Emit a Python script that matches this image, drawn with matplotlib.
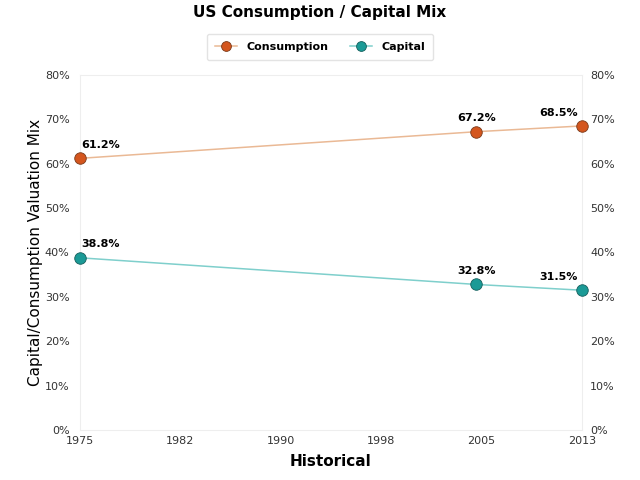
"""US Consumption / Capital mix, line chart with data labels."""

import matplotlib

matplotlib.use("Agg")
import matplotlib.pyplot as plt
import numpy as np
from matplotlib.ticker import FuncFormatter

years = [1975, 2005, 2013]
consumption = [61.2, 67.2, 68.5]
capital = [38.8, 32.8, 31.5]
x_tick_labels = ["1975", "1982", "1990", "1998", "2005", "2013"]
y_ticks = [0, 10, 20, 30, 40, 50, 60, 70, 80]

cons_marker = "#d4561e"
cons_line = "#eab995"
cap_marker = "#1b9a96"
cap_line = "#7fcfcc"

plt.rcParams["font.family"] = ["DejaVu Sans"]

fig = plt.figure(figsize=(6.4, 4.8), dpi=100)
ax = fig.add_axes([0.125, 0.104, 0.784, 0.740])

ax.plot(years, consumption, color=cons_line, lw=1.1, marker="o", ms=8.3,
        mfc=cons_marker, mec="#7a3a1a", mew=0.6, label="Consumption", zorder=3, clip_on=False)
ax.plot(years, capital, color=cap_line, lw=1.1, marker="o", ms=8.3,
        mfc=cap_marker, mec="#145e5c", mew=0.6, label="Capital", zorder=3, clip_on=False)

# data labels
for series in (consumption, capital):
    for i, (x, y) in enumerate(zip(years, series)):
        if i == 0:
            ha, dx = "left", 1
        elif i == len(years) - 1:
            ha, dx = "right", -3
        else:
            ha, dx = "center", 0
        ax.annotate(f"{y:.1f}%", (x, y), xytext=(dx, 6), textcoords="offset points",
                    ha=ha, va="bottom", fontsize=8, fontweight="bold", color="black")

ax.set_xlim(years[0], years[-1])
ax.set_ylim(0, 80)
# evenly spaced ticks across the year range
ax.set_xticks(np.linspace(years[0], years[-1], len(x_tick_labels)), x_tick_labels)
ax.set_yticks(y_ticks)
pct = FuncFormatter(lambda v, p: f"{int(v)}%")
ax.yaxis.set_major_formatter(pct)
ax.tick_params(axis="both", length=0, labelsize=8, colors="#333333")
ax.tick_params(axis="y", pad=7.5)
ax.tick_params(axis="x", pad=4)
for s in ax.spines.values():
    s.set_color("#eeeeee")
    s.set_linewidth(0.8)

# right-hand copy of the percentage scale
ax2 = ax.twinx()
ax2.set_ylim(0, 80)
ax2.set_yticks(y_ticks)
ax2.yaxis.set_major_formatter(pct)
ax2.tick_params(axis="y", length=0, labelsize=8, colors="#333333", pad=6)
for s in ax2.spines.values():
    s.set_visible(False)

ax.set_ylabel("Capital/Consumption Valuation Mix", fontsize=11, labelpad=1)
ax.set_xlabel("Historical", fontsize=11, fontweight="bold", labelpad=6)

fig.suptitle("US Consumption / Capital Mix", fontsize=11, fontweight="bold", y=0.99)
leg = fig.legend(handles=ax.get_lines(), loc="center", bbox_to_anchor=(0.5, 0.902), ncol=2,
                 frameon=True, prop={"weight": "bold", "size": 8}, handlelength=2.0,
                 markerscale=0.85, columnspacing=2.0, borderpad=0.7, fancybox=True)
leg.get_frame().set_edgecolor("#dddddd")
leg.get_frame().set_linewidth(1.0)

fig.savefig("out.png", dpi=100)
plt.close(fig)
